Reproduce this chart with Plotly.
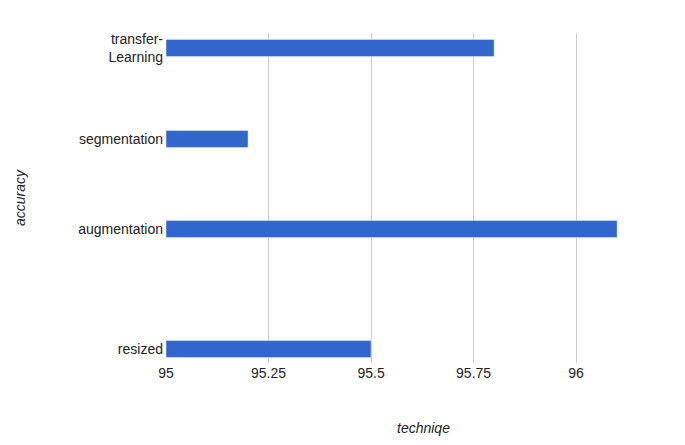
import plotly.graph_objects as go

categories = ["resized", "augmentation", "segmentation", "transfer-<br>Learning"]
positions = [0, 1.2, 2.1, 3.01]
values = [95.5, 96.1, 95.2, 95.8]
x_ticks = [95, 95.25, 95.5, 95.75, 96, 96.25]
x_labels = ["95", "95.25", "95.5", "95.75", "96", "96.25"]

fig = go.Figure(go.Bar(
    x=[v - 95 for v in values], y=positions, orientation="h", width=0.17,
    marker=dict(color="#3366cc"), base=95,
))

fig.update_layout(
    width=685, height=445,
    margin=dict(l=158, r=0, t=25, b=90, autoexpand=False),
    plot_bgcolor="white", paper_bgcolor="white",
    font=dict(family="Liberation Sans, Arial", size=14, color="#222"),
    showlegend=False,
    xaxis=dict(range=[95, 96.285], tickvals=x_ticks, ticktext=x_labels,
               showgrid=True, gridcolor="#cccccc", zeroline=False,
               showline=False, ticks="", automargin=False),
    yaxis=dict(range=[-0.14, 3.16], tickvals=positions, ticktext=categories,
               showgrid=False, zeroline=False, showline=False, ticks="",
               automargin=False, ticklabelstandoff=2),
    annotations=[
        dict(text="<i>techniqe</i>", xref="paper", yref="paper", x=(415 - 158) / 527,
             y=-65 / 330, yanchor="middle", showarrow=False, font=dict(size=14, color="#222")),
        dict(text="<i>accuracy</i>", xref="paper", yref="paper", x=-146 / 527,
             y=0.5, textangle=-90, xanchor="center", showarrow=False,
             font=dict(size=14, color="#222")),
    ],
)
fig.write_html("out.html")
